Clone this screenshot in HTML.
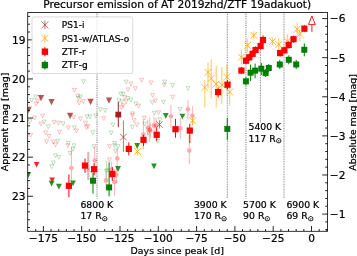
<!DOCTYPE html>
<html><head><meta charset="utf-8"><title>Precursor emission of AT 2019zhd</title>
<style>html,body{margin:0;padding:0;background:#fff;overflow:hidden}svg{display:block}</style>
</head><body>
<svg width="357" height="256" viewBox="0 0 357 256" font-family='"DejaVu Sans","Liberation Sans",sans-serif' fill="#000">
<style>text{stroke:#000;stroke-width:0.22px;paint-order:stroke}</style>
<rect x="0" y="0" width="357" height="256" fill="#fff"/>
<clipPath id="ax"><rect x="27.7" y="12.5" width="299.8" height="218.8"/></clipPath>
<g clip-path="url(#ax)">
<path d="M97.00 12.50V198.60" stroke="#b4b4b4" stroke-width="1.8" stroke-dasharray="0.9 0.9" fill="none"/>
<path d="M227.30 12.50V198.60" stroke="#686868" stroke-width="0.85" stroke-dasharray="0.85 0.8" fill="none"/>
<path d="M245.90 12.50V198.60" stroke="#b4b4b4" stroke-width="1.8" stroke-dasharray="0.9 0.9" fill="none"/>
<path d="M260.40 12.50V122.70" stroke="#686868" stroke-width="0.85" stroke-dasharray="0.85 0.8" fill="none"/>
<path d="M284.00 12.50V198.60" stroke="#686868" stroke-width="0.85" stroke-dasharray="0.85 0.8" fill="none"/>
<path d="M72.45 88.35H76.35L74.40 92.25ZM75.95 94.15H79.85L77.90 98.05ZM81.45 99.55H85.35L83.40 103.45ZM77.25 101.05H81.15L79.20 104.95ZM35.55 99.25H39.45L37.50 103.15ZM34.15 102.25H38.05L36.10 106.15ZM40.65 114.05H44.55L42.60 117.95ZM32.45 116.05H36.35L34.40 119.95ZM71.65 115.25H75.55L73.60 119.15ZM78.45 116.95H82.35L80.40 120.85ZM52.15 120.35H56.05L54.10 124.25ZM56.65 121.25H60.55L58.60 125.15ZM38.95 122.05H42.85L40.90 125.95ZM83.65 121.25H87.55L85.60 125.15ZM84.45 125.55H88.35L86.40 129.45ZM66.45 125.85H70.35L68.40 129.75ZM74.55 129.05H78.45L76.50 132.95ZM57.55 130.35H61.45L59.50 134.25ZM43.75 130.75H47.65L45.70 134.65ZM47.05 134.45H50.95L49.00 138.35ZM28.65 133.25H32.55L30.60 137.15ZM44.65 139.85H48.55L46.60 143.75ZM51.35 140.15H55.25L53.30 144.05ZM65.95 143.75H69.85L67.90 147.65ZM53.55 142.95H57.45L55.50 146.85ZM139.65 78.35H143.55L141.60 82.25ZM129.05 82.15H132.95L131.00 86.05ZM133.35 86.65H137.25L135.30 90.55ZM125.95 87.85H129.85L127.90 91.75ZM122.65 95.55H126.55L124.60 99.45ZM124.25 99.85H128.15L126.20 103.75ZM121.25 103.85H125.15L123.20 107.75ZM119.55 105.55H123.45L121.50 109.45ZM136.75 104.15H140.65L138.70 108.05ZM130.45 111.85H134.35L132.40 115.75ZM101.85 116.65H105.75L103.80 120.55ZM130.45 113.55H134.35L132.40 117.45ZM132.15 118.65H136.05L134.10 122.55ZM135.05 122.95H138.95L137.00 126.85ZM142.45 116.05H146.35L144.40 119.95ZM86.05 124.65H89.95L88.00 128.55ZM107.55 144.65H111.45L109.50 148.55ZM107.55 157.85H111.45L109.50 161.75ZM148.95 80.95H152.85L150.90 84.85ZM162.35 83.15H166.25L164.30 87.05ZM150.65 93.45H154.55L152.60 97.35ZM153.45 98.95H157.35L155.40 102.85ZM170.65 95.25H174.55L172.60 99.15ZM156.75 110.75H160.65L158.70 114.65Z" fill="none" stroke="#ff0000" stroke-opacity="0.3" stroke-width="0.8" stroke-linejoin="miter"/>
<path d="M81.55 79.75H85.45L83.50 83.65ZM78.45 95.05H82.35L80.40 98.95ZM76.25 96.45H80.15L78.20 100.35ZM33.75 95.05H37.65L35.70 98.95ZM29.75 98.45H33.65L31.70 102.35ZM85.05 114.85H88.95L87.00 118.75ZM61.25 121.75H65.15L63.20 125.65ZM42.35 120.05H46.25L44.30 123.95ZM46.35 124.65H50.25L48.30 128.55ZM72.45 125.85H76.35L74.40 129.75ZM55.75 139.35H59.65L57.70 143.25ZM66.45 141.35H70.35L68.40 145.25ZM53.55 153.75H57.45L55.50 157.65ZM56.95 155.45H60.85L58.90 159.35ZM51.45 160.95H55.35L53.40 164.85ZM49.65 164.75H53.55L51.60 168.65ZM68.15 151.55H72.05L70.10 155.45ZM71.05 147.25H74.95L73.00 151.15ZM72.15 143.75H76.05L74.10 147.65ZM124.25 80.05H128.15L126.20 83.95ZM118.75 92.15H122.65L120.70 96.05ZM121.25 92.15H125.15L123.20 96.05ZM116.95 98.65H120.85L118.90 102.55ZM119.95 99.85H123.85L121.90 103.75ZM125.95 96.45H129.85L127.90 100.35ZM129.05 98.15H132.95L131.00 102.05ZM133.85 102.05H137.75L135.80 105.95ZM98.45 107.55H102.35L100.40 111.45ZM103.25 108.55H107.15L105.20 112.45ZM88.15 114.85H92.05L90.10 118.75ZM93.75 113.85H97.65L95.70 117.75ZM110.95 122.95H114.85L112.90 126.85ZM109.25 131.05H113.15L111.20 134.95ZM90.85 130.75H94.75L92.80 134.65ZM130.45 125.25H134.35L132.40 129.15ZM142.75 122.15H146.65L144.70 126.05ZM112.65 141.35H116.55L114.60 145.25ZM92.05 144.65H95.95L94.00 148.55ZM112.65 143.75H116.55L114.60 147.65ZM116.15 144.65H120.05L118.10 148.55ZM113.55 148.95H117.45L115.50 152.85ZM162.75 80.05H166.65L164.70 83.95ZM170.65 83.55H174.55L172.60 87.45ZM185.95 86.65H189.85L187.90 90.55ZM150.35 100.75H154.25L152.30 104.65ZM161.55 100.25H165.45L163.50 104.15ZM178.15 107.55H182.05L180.10 111.45ZM152.45 111.25H156.35L154.40 115.15ZM155.85 139.35H159.75L157.80 143.25ZM158.05 117.85H161.95L160.00 121.75ZM146.35 130.95H150.25L148.30 134.85ZM27.85 119.75H31.75L29.80 123.65Z" fill="none" stroke="#008000" stroke-opacity="0.3" stroke-width="0.8" stroke-linejoin="miter"/>
<g fill="#ff0000" stroke="#ff0000" opacity="0.33"><path d="M71.40 147.60V181.10" stroke-width="0.9" fill="none"/><circle cx="71.40" cy="168.10" r="2.3" stroke="none"/></g>
<g fill="#ff0000" stroke="#ff0000" opacity="0.33"><path d="M94.70 146.50V174.50" stroke-width="0.9" fill="none"/><circle cx="94.70" cy="160.50" r="2.3" stroke="none"/></g>
<g fill="#ff0000" stroke="#ff0000" opacity="0.33"><path d="M117.30 148.40V169.90" stroke-width="0.9" fill="none"/><circle cx="117.30" cy="158.40" r="2.3" stroke="none"/></g>
<g fill="#ff0000" stroke="#ff0000" opacity="0.33"><path d="M111.30 161.70V177.70" stroke-width="0.9" fill="none"/><circle cx="111.30" cy="169.70" r="2.3" stroke="none"/></g>
<g fill="#ff0000" stroke="#ff0000" opacity="0.33"><path d="M106.00 171.50V189.50" stroke-width="0.9" fill="none"/><circle cx="106.00" cy="180.50" r="2.3" stroke="none"/></g>
<g fill="#ff0000" stroke="#ff0000" opacity="0.33"><path d="M114.60 169.20V195.70" stroke-width="0.9" fill="none"/><circle cx="114.60" cy="182.20" r="2.3" stroke="none"/></g>
<g fill="#ff0000" stroke="#ff0000" opacity="0.33"><path d="M116.40 166.60V182.60" stroke-width="0.9" fill="none"/><circle cx="116.40" cy="174.60" r="2.3" stroke="none"/></g>
<g fill="#ff0000" stroke="#ff0000" opacity="0.33"><path d="M143.40 119.00V149.50" stroke-width="0.9" fill="none"/><circle cx="143.40" cy="134.50" r="2.3" stroke="none"/></g>
<g fill="#ff0000" stroke="#ff0000" opacity="0.33"><path d="M147.80 119.80V135.80" stroke-width="0.9" fill="none"/><circle cx="147.80" cy="127.80" r="2.3" stroke="none"/></g>
<g fill="#ff0000" stroke="#ff0000" opacity="0.33"><path d="M150.30 123.50V137.50" stroke-width="0.9" fill="none"/><circle cx="150.30" cy="130.50" r="2.3" stroke="none"/></g>
<g fill="#ff0000" stroke="#ff0000" opacity="0.33"><path d="M156.10 117.60V133.60" stroke-width="0.9" fill="none"/><circle cx="156.10" cy="125.60" r="2.3" stroke="none"/></g>
<g fill="#ff0000" stroke="#ff0000" opacity="0.33"><path d="M149.70 117.60V141.60" stroke-width="0.9" fill="none"/><circle cx="149.70" cy="129.60" r="2.3" stroke="none"/></g>
<g fill="#ff0000" stroke="#ff0000" opacity="0.33"><path d="M154.00 116.40V134.40" stroke-width="0.9" fill="none"/><circle cx="154.00" cy="125.40" r="2.3" stroke="none"/></g>
<g fill="#ff0000" stroke="#ff0000" opacity="0.33"><path d="M170.90 104.80V127.80" stroke-width="0.9" fill="none"/><circle cx="170.90" cy="116.30" r="2.3" stroke="none"/></g>
<g fill="#ff0000" stroke="#ff0000" opacity="0.33"><path d="M180.30 118.10V138.70" stroke-width="0.9" fill="none"/><circle cx="180.30" cy="128.40" r="2.3" stroke="none"/></g>
<g fill="#ff0000" stroke="#ff0000" opacity="0.33"><path d="M187.90 100.00V119.70" stroke-width="0.9" fill="none"/><circle cx="187.90" cy="109.20" r="2.3" stroke="none"/></g>
<g fill="#ff0000" stroke="#ff0000" opacity="0.33"><path d="M192.40 106.10V125.80" stroke-width="0.9" fill="none"/><circle cx="192.40" cy="115.80" r="2.3" stroke="none"/></g>
<g fill="#ff0000" stroke="#ff0000" opacity="0.33"><path d="M189.30 135.10V164.40" stroke-width="0.9" fill="none"/><circle cx="189.30" cy="150.60" r="2.3" stroke="none"/></g>
<g fill="#008000" stroke="#008000" opacity="0.33"><path d="M106.70 161.00V179.00" stroke-width="0.9" fill="none"/><circle cx="106.70" cy="170.00" r="2.3" stroke="none"/></g>
<path d="M25.45 106.65H31.75L28.60 112.95Z" fill="#a52a2a" fill-opacity="0.8"/>
<path d="M37.85 94.95H44.15L41.00 101.25Z" fill="#a52a2a" fill-opacity="0.8"/>
<path d="M48.35 99.05H54.65L51.50 105.35Z" fill="#a52a2a" fill-opacity="0.8"/>
<path d="M66.95 112.65H73.25L70.10 118.95Z" fill="#a52a2a" fill-opacity="0.8"/>
<path d="M87.45 98.65H93.75L90.60 104.95Z" fill="#a52a2a" fill-opacity="0.8"/>
<path d="M105.85 97.45H112.15L109.00 103.75Z" fill="#a52a2a" fill-opacity="0.8"/>
<path d="M33.80 162.00H39.40L36.60 167.60Z" fill="#ff0000" fill-opacity="0.85"/>
<path d="M49.30 177.40H54.90L52.10 183.00Z" fill="#ff0000" fill-opacity="0.85"/>
<path d="M25.30 172.10H31.10L28.20 177.90Z" fill="#008000" fill-opacity="0.85"/>
<path d="M48.70 180.80H54.50L51.60 186.60Z" fill="#008000" fill-opacity="0.85"/>
<path d="M56.00 183.80H61.80L58.90 189.60Z" fill="#008000" fill-opacity="0.85"/>
<path d="M70.10 180.50H75.90L73.00 186.30Z" fill="#008000" fill-opacity="0.85"/>
<path d="M115.10 166.10H120.90L118.00 171.90Z" fill="#008000" fill-opacity="0.85"/>
<path d="M134.30 143.10H140.10L137.20 148.90Z" fill="#008000" fill-opacity="0.85"/>
<path d="M151.10 163.50H156.90L154.00 169.30Z" fill="#008000" fill-opacity="0.85"/>
<path d="M162.90 113.00H168.70L165.80 118.80Z" fill="#008000" fill-opacity="0.85"/>
<path d="M179.50 113.80H185.30L182.40 119.60Z" fill="#008000" fill-opacity="0.85"/>
<g stroke="#a52a2a" stroke-opacity="0.35" fill="none"><path stroke-width="2.2" stroke-opacity="0.35" d="M88.30 152.00V180.00"/><path stroke-width="0.9" d="M85.00 166.20L91.60 172.80M85.00 172.80L91.60 166.20"/></g>
<g stroke="#a52a2a" stroke-opacity="0.75" fill="none"><path stroke-width="0.9" stroke-opacity="0.75" d="M123.40 120.60V152.10"/><path stroke-width="0.9" d="M120.10 133.80L126.70 140.40M120.10 140.40L126.70 133.80"/></g>
<g stroke="#a52a2a" stroke-opacity="0.75" fill="none"><path stroke-width="0.9" stroke-opacity="0.75" d="M159.40 120.50V128.50"/><path stroke-width="0.9" d="M156.10 121.20L162.70 127.80M156.10 127.80L162.70 121.20"/></g>
<g fill="#a01515" stroke="#a01515" opacity="0.95"><path d="M118.30 101.80V127.20" stroke-width="1.0" fill="none"/><rect x="115.40" y="111.70" width="5.8" height="5.8" stroke="none"/></g>
<g stroke="#ffa500" stroke-opacity="0.85" fill="none"><path stroke-width="1.15" stroke-opacity="0.55" d="M204.80 80.00V107.50"/><path stroke-width="0.95" d="M201.40 84.10L208.20 90.90M201.40 90.90L208.20 84.10"/></g>
<g stroke="#ffa500" stroke-opacity="0.85" fill="none"><path stroke-width="1.15" stroke-opacity="0.55" d="M208.00 62.60V88.80"/><path stroke-width="0.95" d="M204.60 69.00L211.40 75.80M204.60 75.80L211.40 69.00"/></g>
<g stroke="#ffa500" stroke-opacity="0.85" fill="none"><path stroke-width="1.15" stroke-opacity="0.55" d="M211.20 59.50V98.50"/><path stroke-width="0.95" d="M207.80 75.10L214.60 81.90M207.80 81.90L214.60 75.10"/></g>
<g stroke="#ffa500" stroke-opacity="0.85" fill="none"><path stroke-width="1.15" stroke-opacity="0.55" d="M216.20 66.00V107.50"/><path stroke-width="0.95" d="M212.80 80.60L219.60 87.40M212.80 87.40L219.60 80.60"/></g>
<g stroke="#ffa500" stroke-opacity="0.85" fill="none"><path stroke-width="1.15" stroke-opacity="0.55" d="M221.80 67.00V104.30"/><path stroke-width="0.95" d="M218.40 81.60L225.20 88.40M218.40 88.40L225.20 81.60"/></g>
<g stroke="#ffa500" stroke-opacity="0.85" fill="none"><path stroke-width="1.15" stroke-opacity="0.55" d="M226.80 64.80V90.00"/><path stroke-width="0.95" d="M223.40 73.60L230.20 80.40M223.40 80.40L230.20 73.60"/></g>
<g stroke="#ffa500" stroke-opacity="0.85" fill="none"><path stroke-width="1.15" stroke-opacity="0.55" d="M229.70 82.30V105.30"/><path stroke-width="0.95" d="M226.30 88.60L233.10 95.40M226.30 95.40L233.10 88.60"/></g>
<g stroke="#ffa500" stroke-opacity="0.85" fill="none"><path stroke-width="1.15" stroke-opacity="0.55" d="M241.40 50.20V64.20"/><path stroke-width="0.95" d="M238.00 53.80L244.80 60.60M238.00 60.60L244.80 53.80"/></g>
<g stroke="#ffa500" stroke-opacity="0.85" fill="none"><path stroke-width="1.15" stroke-opacity="0.55" d="M247.60 38.40V52.40"/><path stroke-width="0.95" d="M244.20 42.00L251.00 48.80M244.20 48.80L251.00 42.00"/></g>
<g stroke="#ffa500" stroke-opacity="0.85" fill="none"><path stroke-width="1.15" stroke-opacity="0.55" d="M253.80 31.30V39.30"/><path stroke-width="0.95" d="M250.40 31.90L257.20 38.70M250.40 38.70L257.20 31.90"/></g>
<g stroke="#ffa500" stroke-opacity="0.85" fill="none"><path stroke-width="1.15" stroke-opacity="0.55" d="M272.50 37.50V45.50"/><path stroke-width="0.95" d="M269.10 38.10L275.90 44.90M269.10 44.90L275.90 38.10"/></g>
<g stroke="#ffa500" stroke-opacity="0.85" fill="none"><path stroke-width="1.15" stroke-opacity="0.55" d="M278.70 37.80V51.50"/><path stroke-width="0.95" d="M275.30 41.10L282.10 47.90M275.30 47.90L282.10 41.10"/></g>
<g stroke="#ffa500" stroke-opacity="0.85" fill="none"><path stroke-width="1.15" stroke-opacity="0.55" d="M287.40 34.30V46.40"/><path stroke-width="0.95" d="M284.00 37.80L290.80 44.60M284.00 44.60L290.80 37.80"/></g>
<g stroke="#ffa500" stroke-opacity="0.85" fill="none"><path stroke-width="1.15" stroke-opacity="0.55" d="M297.20 22.30V36.00"/><path stroke-width="0.95" d="M293.80 25.80L300.60 32.60M293.80 32.60L300.60 25.80"/></g>
<g stroke="#ffa500" stroke-opacity="0.85" fill="none"><path stroke-width="1.15" stroke-opacity="0.55" d="M299.80 29.20V41.20"/><path stroke-width="0.95" d="M296.40 30.90L303.20 37.70M296.40 37.70L303.20 30.90"/></g>
<g stroke="#ffa500" stroke-opacity="0.85" fill="none"><path stroke-width="1.15" stroke-opacity="0.55" d="M192.70 116.60V124.60"/><path stroke-width="0.95" d="M189.30 117.20L196.10 124.00M189.30 124.00L196.10 117.20"/></g>
<g stroke="#ffa500" stroke-opacity="0.85" fill="none"><path stroke-width="1.15" stroke-opacity="0.55" d="M137.50 147.50V155.50"/><path stroke-width="0.95" d="M134.10 148.10L140.90 154.90M134.10 154.90L140.90 148.10"/></g>
<g fill="#008000" stroke="#008000" opacity="1"><path d="M93.00 172.70V193.70" stroke-width="1.0" fill="none"/><rect x="90.00" y="177.70" width="6.0" height="6.0" stroke="none"/></g>
<g fill="#008000" stroke="#008000" opacity="1"><path d="M109.10 162.40V196.40" stroke-width="1.0" fill="none"/><rect x="106.10" y="184.40" width="6.0" height="6.0" stroke="none"/></g>
<g fill="#008000" stroke="#008000" opacity="1"><path d="M227.30 117.90V139.90" stroke-width="1.0" fill="none"/><rect x="224.30" y="125.90" width="6.0" height="6.0" stroke="none"/></g>
<g fill="#008000" stroke="#008000" opacity="1"><path d="M245.90 77.30V85.30" stroke-width="1.0" fill="none"/><rect x="242.90" y="78.30" width="6.0" height="6.0" stroke="none"/></g>
<g fill="#008000" stroke="#008000" opacity="1"><path d="M250.60 64.60V81.00" stroke-width="1.0" fill="none"/><rect x="247.60" y="69.70" width="6.0" height="6.0" stroke="none"/></g>
<g fill="#008000" stroke="#008000" opacity="1"><path d="M255.10 63.60V78.30" stroke-width="1.0" fill="none"/><rect x="252.10" y="67.60" width="6.0" height="6.0" stroke="none"/></g>
<g fill="#008000" stroke="#008000" opacity="1"><path d="M261.30 62.90V75.00" stroke-width="1.0" fill="none"/><rect x="258.30" y="65.70" width="6.0" height="6.0" stroke="none"/></g>
<g fill="#008000" stroke="#008000" opacity="1"><path d="M265.60 69.00V77.00" stroke-width="1.0" fill="none"/><rect x="262.60" y="70.00" width="6.0" height="6.0" stroke="none"/></g>
<g fill="#008000" stroke="#008000" opacity="1"><path d="M268.80 64.00V72.00" stroke-width="1.0" fill="none"/><rect x="265.80" y="65.00" width="6.0" height="6.0" stroke="none"/></g>
<g fill="#008000" stroke="#008000" opacity="1"><path d="M279.80 60.00V69.00" stroke-width="1.0" fill="none"/><rect x="276.80" y="61.50" width="6.0" height="6.0" stroke="none"/></g>
<g fill="#008000" stroke="#008000" opacity="1"><path d="M288.80 55.30V64.30" stroke-width="1.0" fill="none"/><rect x="285.80" y="56.80" width="6.0" height="6.0" stroke="none"/></g>
<g fill="#008000" stroke="#008000" opacity="1"><path d="M296.20 60.00V69.00" stroke-width="1.0" fill="none"/><rect x="293.20" y="61.50" width="6.0" height="6.0" stroke="none"/></g>
<g fill="#008000" stroke="#008000" opacity="1"><path d="M304.30 43.40V56.30" stroke-width="1.0" fill="none"/><rect x="301.30" y="46.80" width="6.0" height="6.0" stroke="none"/></g>
<g fill="#ff0000" stroke="#ff0000" opacity="1"><path d="M68.90 174.50V197.20" stroke-width="1.0" fill="none"/><rect x="65.80" y="182.70" width="6.2" height="6.2" stroke="none"/></g>
<g fill="#ff0000" stroke="#ff0000" opacity="1"><path d="M85.00 158.60V172.60" stroke-width="1.0" fill="none"/><rect x="81.90" y="162.50" width="6.2" height="6.2" stroke="none"/></g>
<g fill="#ff0000" stroke="#ff0000" opacity="1"><path d="M94.10 163.20V175.20" stroke-width="1.0" fill="none"/><rect x="91.00" y="166.10" width="6.2" height="6.2" stroke="none"/></g>
<g fill="#ff0000" stroke="#ff0000" opacity="1"><path d="M112.30 167.00V181.00" stroke-width="1.0" fill="none"/><rect x="109.20" y="170.90" width="6.2" height="6.2" stroke="none"/></g>
<g fill="#ff0000" stroke="#ff0000" opacity="1"><path d="M128.80 142.40V155.40" stroke-width="1.0" fill="none"/><rect x="125.70" y="145.80" width="6.2" height="6.2" stroke="none"/></g>
<g fill="#ff0000" stroke="#ff0000" opacity="1"><path d="M143.50 134.80V145.80" stroke-width="1.0" fill="none"/><rect x="140.40" y="136.70" width="6.2" height="6.2" stroke="none"/></g>
<g fill="#ff0000" stroke="#ff0000" opacity="1"><path d="M156.70 127.80V141.30" stroke-width="1.0" fill="none"/><rect x="153.60" y="131.70" width="6.2" height="6.2" stroke="none"/></g>
<g fill="#ff0000" stroke="#ff0000" opacity="1"><path d="M175.50 118.90V137.70" stroke-width="1.0" fill="none"/><rect x="172.40" y="126.10" width="6.2" height="6.2" stroke="none"/></g>
<g fill="#ff0000" stroke="#ff0000" opacity="1"><path d="M189.80 124.00V143.00" stroke-width="1.0" fill="none"/><rect x="186.70" y="127.50" width="6.2" height="6.2" stroke="none"/></g>
<g fill="#ff0000" stroke="#ff0000" opacity="1"><path d="M218.10 87.60V97.60" stroke-width="1.0" fill="none"/><rect x="215.00" y="89.00" width="6.2" height="6.2" stroke="none"/></g>
<g fill="#ff0000" stroke="#ff0000" opacity="1"><path d="M227.50 80.20V89.20" stroke-width="1.0" fill="none"/><rect x="224.40" y="81.60" width="6.2" height="6.2" stroke="none"/></g>
<g fill="#ff0000" stroke="#ff0000" opacity="1"><path d="M241.40 67.00V74.20" stroke-width="1.0" fill="none"/><rect x="238.30" y="67.50" width="6.2" height="6.2" stroke="none"/></g>
<g fill="#ff0000" stroke="#ff0000" opacity="1"><path d="M246.00 57.10V64.30" stroke-width="1.0" fill="none"/><rect x="242.90" y="57.60" width="6.2" height="6.2" stroke="none"/></g>
<g fill="#ff0000" stroke="#ff0000" opacity="1"><path d="M249.30 53.70V60.90" stroke-width="1.0" fill="none"/><rect x="246.20" y="54.20" width="6.2" height="6.2" stroke="none"/></g>
<g fill="#ff0000" stroke="#ff0000" opacity="1"><path d="M252.60 50.20V57.40" stroke-width="1.0" fill="none"/><rect x="249.50" y="50.70" width="6.2" height="6.2" stroke="none"/></g>
<g fill="#ff0000" stroke="#ff0000" opacity="1"><path d="M255.60 46.40V53.60" stroke-width="1.0" fill="none"/><rect x="252.50" y="46.90" width="6.2" height="6.2" stroke="none"/></g>
<g fill="#ff0000" stroke="#ff0000" opacity="1"><path d="M260.60 42.40V49.60" stroke-width="1.0" fill="none"/><rect x="257.50" y="42.90" width="6.2" height="6.2" stroke="none"/></g>
<g fill="#ff0000" stroke="#ff0000" opacity="1"><path d="M263.00 35.40V43.60" stroke-width="1.0" fill="none"/><rect x="259.90" y="36.90" width="6.2" height="6.2" stroke="none"/></g>
<g fill="#ff0000" stroke="#ff0000" opacity="1"><path d="M280.10 49.50V56.70" stroke-width="1.0" fill="none"/><rect x="277.00" y="50.00" width="6.2" height="6.2" stroke="none"/></g>
<g fill="#ff0000" stroke="#ff0000" opacity="1"><path d="M284.40 46.70V53.90" stroke-width="1.0" fill="none"/><rect x="281.30" y="47.20" width="6.2" height="6.2" stroke="none"/></g>
<g fill="#ff0000" stroke="#ff0000" opacity="1"><path d="M288.70 41.40V48.60" stroke-width="1.0" fill="none"/><rect x="285.60" y="41.90" width="6.2" height="6.2" stroke="none"/></g>
<g fill="#ff0000" stroke="#ff0000" opacity="1"><path d="M293.50 35.60V42.80" stroke-width="1.0" fill="none"/><rect x="290.40" y="36.10" width="6.2" height="6.2" stroke="none"/></g>
<g fill="#ff0000" stroke="#ff0000" opacity="1"><path d="M304.40 25.20V32.20" stroke-width="1.0" fill="none"/><rect x="301.30" y="25.60" width="6.2" height="6.2" stroke="none"/></g>
<path d="M311.9 15.9L315.3 24.6H308.5Z" fill="#fff" stroke="#f00" stroke-width="0.9" stroke-linejoin="miter"/>
<path d="M311.9 24.9V31.8" stroke="#f00" stroke-width="0.9" fill="none"/>
</g>
<text x="80.4" y="207.8" font-size="9.3">6800 K</text><text x="80.4" y="219.3" font-size="9.3">17 R<tspan font-size="7.25" dy="1.5">⊙</tspan></text>
<text x="193.9" y="207.8" font-size="9.3">3900 K</text><text x="193.9" y="219.3" font-size="9.3">170 R<tspan font-size="7.25" dy="1.5">⊙</tspan></text>
<text x="243.1" y="207.8" font-size="9.3">5700 K</text><text x="243.1" y="219.3" font-size="9.3">90 R<tspan font-size="7.25" dy="1.5">⊙</tspan></text>
<text x="286.4" y="207.8" font-size="9.3">6900 K</text><text x="286.4" y="219.3" font-size="9.3">69 R<tspan font-size="7.25" dy="1.5">⊙</tspan></text>
<text x="248.5" y="130.0" font-size="9.3">5400 K</text><text x="248.5" y="141.5" font-size="9.3">117 R<tspan font-size="7.25" dy="1.5">⊙</tspan></text>
<rect x="27.7" y="12.5" width="299.8" height="218.8" fill="none" stroke="#111" stroke-width="0.85"/>
<path d="M35.74 231.3v-2.3 M43.40 231.3v-5.3 M51.06 231.3v-2.3 M58.72 231.3v-2.3 M66.38 231.3v-2.3 M74.04 231.3v-2.3 M81.70 231.3v-5.3 M89.36 231.3v-2.3 M97.02 231.3v-2.3 M104.68 231.3v-2.3 M112.34 231.3v-2.3 M120.00 231.3v-5.3 M127.66 231.3v-2.3 M135.32 231.3v-2.3 M142.98 231.3v-2.3 M150.64 231.3v-2.3 M158.30 231.3v-5.3 M165.96 231.3v-2.3 M173.62 231.3v-2.3 M181.28 231.3v-2.3 M188.94 231.3v-2.3 M196.60 231.3v-5.3 M204.26 231.3v-2.3 M211.92 231.3v-2.3 M219.58 231.3v-2.3 M227.24 231.3v-2.3 M234.90 231.3v-5.3 M242.56 231.3v-2.3 M250.22 231.3v-2.3 M257.88 231.3v-2.3 M265.54 231.3v-2.3 M273.20 231.3v-5.3 M280.86 231.3v-2.3 M288.52 231.3v-2.3 M296.18 231.3v-2.3 M303.84 231.3v-2.3 M311.50 231.3v-5.3 M319.16 231.3v-2.3 M326.82 231.3v-2.3 M27.7 16.39h2.3 M27.7 24.21h2.3 M27.7 32.03h2.3 M27.7 39.85h5.3 M27.7 47.67h2.3 M27.7 55.49h2.3 M27.7 63.31h2.3 M27.7 71.13h2.3 M27.7 78.95h5.3 M27.7 86.77h2.3 M27.7 94.59h2.3 M27.7 102.41h2.3 M27.7 110.23h2.3 M27.7 118.05h5.3 M27.7 125.87h2.3 M27.7 133.69h2.3 M27.7 141.51h2.3 M27.7 149.33h2.3 M27.7 157.15h5.3 M27.7 164.97h2.3 M27.7 172.79h2.3 M27.7 180.61h2.3 M27.7 188.43h2.3 M27.7 196.25h5.3 M27.7 204.07h2.3 M27.7 211.89h2.3 M27.7 219.71h2.3 M27.7 227.53h2.3 M327.5 18.58h-5.3 M327.5 26.40h-2.3 M327.5 34.22h-2.3 M327.5 42.04h-2.3 M327.5 49.86h-2.3 M327.5 57.68h-5.3 M327.5 65.50h-2.3 M327.5 73.32h-2.3 M327.5 81.14h-2.3 M327.5 88.96h-2.3 M327.5 96.78h-5.3 M327.5 104.60h-2.3 M327.5 112.42h-2.3 M327.5 120.24h-2.3 M327.5 128.06h-2.3 M327.5 135.88h-5.3 M327.5 143.70h-2.3 M327.5 151.52h-2.3 M327.5 159.34h-2.3 M327.5 167.16h-2.3 M327.5 174.98h-5.3 M327.5 182.80h-2.3 M327.5 190.62h-2.3 M327.5 198.44h-2.3 M327.5 206.26h-2.3 M327.5 214.08h-5.3 M327.5 221.90h-2.3 M327.5 229.72h-2.3" stroke="#000" stroke-width="0.85" fill="none"/>
<text x="43.40" y="241.9" font-size="10.6" text-anchor="middle">−175</text>
<text x="81.70" y="241.9" font-size="10.6" text-anchor="middle">−150</text>
<text x="120.00" y="241.9" font-size="10.6" text-anchor="middle">−125</text>
<text x="158.30" y="241.9" font-size="10.6" text-anchor="middle">−100</text>
<text x="196.60" y="241.9" font-size="10.6" text-anchor="middle">−75</text>
<text x="234.90" y="241.9" font-size="10.6" text-anchor="middle">−50</text>
<text x="273.20" y="241.9" font-size="10.6" text-anchor="middle">−25</text>
<text x="311.50" y="241.9" font-size="10.6" text-anchor="middle">0</text>
<text x="25.4" y="43.70" font-size="10.6" text-anchor="end">19</text>
<text x="25.4" y="82.80" font-size="10.6" text-anchor="end">20</text>
<text x="25.4" y="121.90" font-size="10.6" text-anchor="end">21</text>
<text x="25.4" y="161.00" font-size="10.6" text-anchor="end">22</text>
<text x="25.4" y="200.10" font-size="10.6" text-anchor="end">23</text>
<text x="329.8" y="22.43" font-size="10.6">−6</text>
<text x="329.8" y="61.53" font-size="10.6">−5</text>
<text x="329.8" y="100.63" font-size="10.6">−4</text>
<text x="329.8" y="139.73" font-size="10.6">−3</text>
<text x="329.8" y="178.83" font-size="10.6">−2</text>
<text x="329.8" y="217.93" font-size="10.6">−1</text>
<text x="177.2" y="8.0" font-size="10.65" text-anchor="middle">Precursor emission of AT 2019zhd/ZTF 19adakuot)</text>
<text x="177.3" y="253.6" font-size="9.45" text-anchor="middle">Days since peak [d]</text>
<text transform="translate(7.9 121.9) rotate(-90)" font-size="9.45" text-anchor="middle">Apparent mag [mag]</text>
<text transform="translate(355.7 122.4) rotate(-90)" font-size="9.45" text-anchor="middle">Absolute mag [mag]</text>
<rect x="32.0" y="16.9" width="100.7" height="56.7" rx="1.8" fill="#fff" fill-opacity="0.8" stroke="#d0d0d0" stroke-width="0.8"/>
<text x="61.8" y="28.20" font-size="9.0">PS1-i</text>
<text x="61.8" y="41.60" font-size="9.0">PS1-w/ATLAS-o</text>
<text x="61.8" y="55.00" font-size="9.0">ZTF-r</text>
<text x="61.8" y="68.40" font-size="9.0">ZTF-g</text>
<g stroke="#a52a2a" stroke-opacity="0.7" fill="none"><path stroke-width="0.95" stroke-opacity="0.7" d="M44.90 20.70V29.10"/><path stroke-width="0.95" d="M41.40 21.40L48.40 28.40M41.40 28.40L48.40 21.40"/></g>
<g stroke="#ffa500" stroke-opacity="0.8" fill="none"><path stroke-width="0.95" stroke-opacity="0.8" d="M44.90 34.10V42.50"/><path stroke-width="0.95" d="M41.40 34.80L48.40 41.80M41.40 41.80L48.40 34.80"/></g>
<g fill="#f00" stroke="#f00" opacity="1"><path d="M44.90 47.20V56.20" stroke-width="1.1" fill="none"/><rect x="41.70" y="48.50" width="6.4" height="6.4" stroke="none"/></g>
<g fill="#008000" stroke="#008000" opacity="1"><path d="M44.90 60.60V69.60" stroke-width="1.1" fill="none"/><rect x="41.70" y="61.90" width="6.4" height="6.4" stroke="none"/></g>
</svg>
</body></html>
